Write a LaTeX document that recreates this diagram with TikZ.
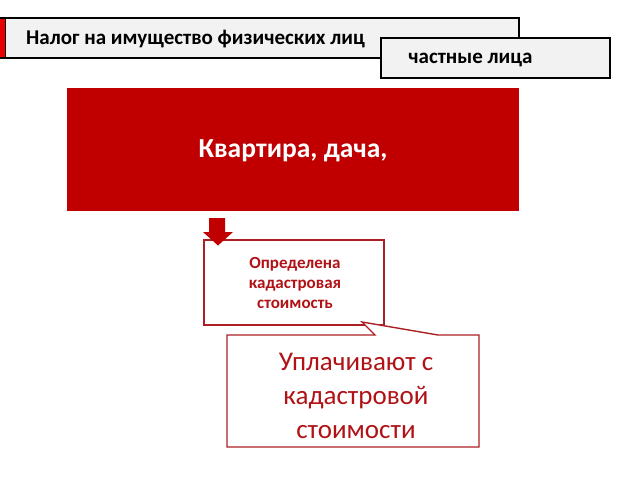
\documentclass[tikz,border=0pt]{standalone}
\usepackage{fontspec}
\setmainfont{Carlito}
\definecolor{boxred}{RGB}{192,0,0}
\definecolor{edgered}{RGB}{172,32,36}
\definecolor{txtred}{RGB}{176,18,22}
\definecolor{greyfill}{RGB}{242,242,242}
\definecolor{strip}{RGB}{230,0,0}
\tikzset{
  px/.style={x=1pt,y=-1pt},
  titlebox/.style={draw=black,line width=1.3pt,fill=greyfill},
  redbox/.style={fill=boxred},
  outlinebox/.style={draw=edgered,line width=1.4pt,fill=white},
  lbl/.style={inner sep=0pt,align=center}
}
\begin{document}
\begin{tikzpicture}[px]
\useasboundingbox (0,0) rectangle (638,479);
% title box
\draw[titlebox] (0,18) rectangle (519,58);
\fill[strip] (0,18.6) rectangle (5,57.4);
\draw[black,line width=1.3pt] (5.5,18) -- (5.5,58);
\node[lbl,anchor=west,font=\bfseries\fontsize{21}{24}\selectfont] (title) at (26,39) {Налог на имущество физических лиц};
% private persons box
\draw[titlebox] (381,38) rectangle (610,78);
\node[lbl,font=\bfseries\fontsize{21}{24}\selectfont] (priv) at (470.5,60) {частные лица};
% red box
\fill[redbox] (67,88) rectangle (519,211);
\node[lbl,text=white,font=\bfseries\fontsize{27.5}{32}\selectfont] (kv) at (293,151) {Квартира, дача,};
% box 1
\draw[outlinebox] (204,240) rectangle (384,325);
\node[lbl,text=txtred,font=\bfseries\fontsize{17}{20}\selectfont] (opr) at (295,283) {Определена\\кадастровая\\стоимость};
% arrow
\fill[boxred] (209,218) -- (225,218) -- (225,232) -- (233,232) -- (218,245.5) -- (203,232) -- (209,232) -- cycle;
% callout
\draw[outlinebox,line join=miter] (227,335) -- (375,335) -- (362,322) -- (438,335) -- (479,335) -- (479,447) -- (227,447) -- cycle;
\node[lbl,text=txtred,font=\fontsize{27}{34}\selectfont] (upl) at (356,396) {Уплачивают с\\кадастровой\\стоимости};
\end{tikzpicture}
\end{document}
